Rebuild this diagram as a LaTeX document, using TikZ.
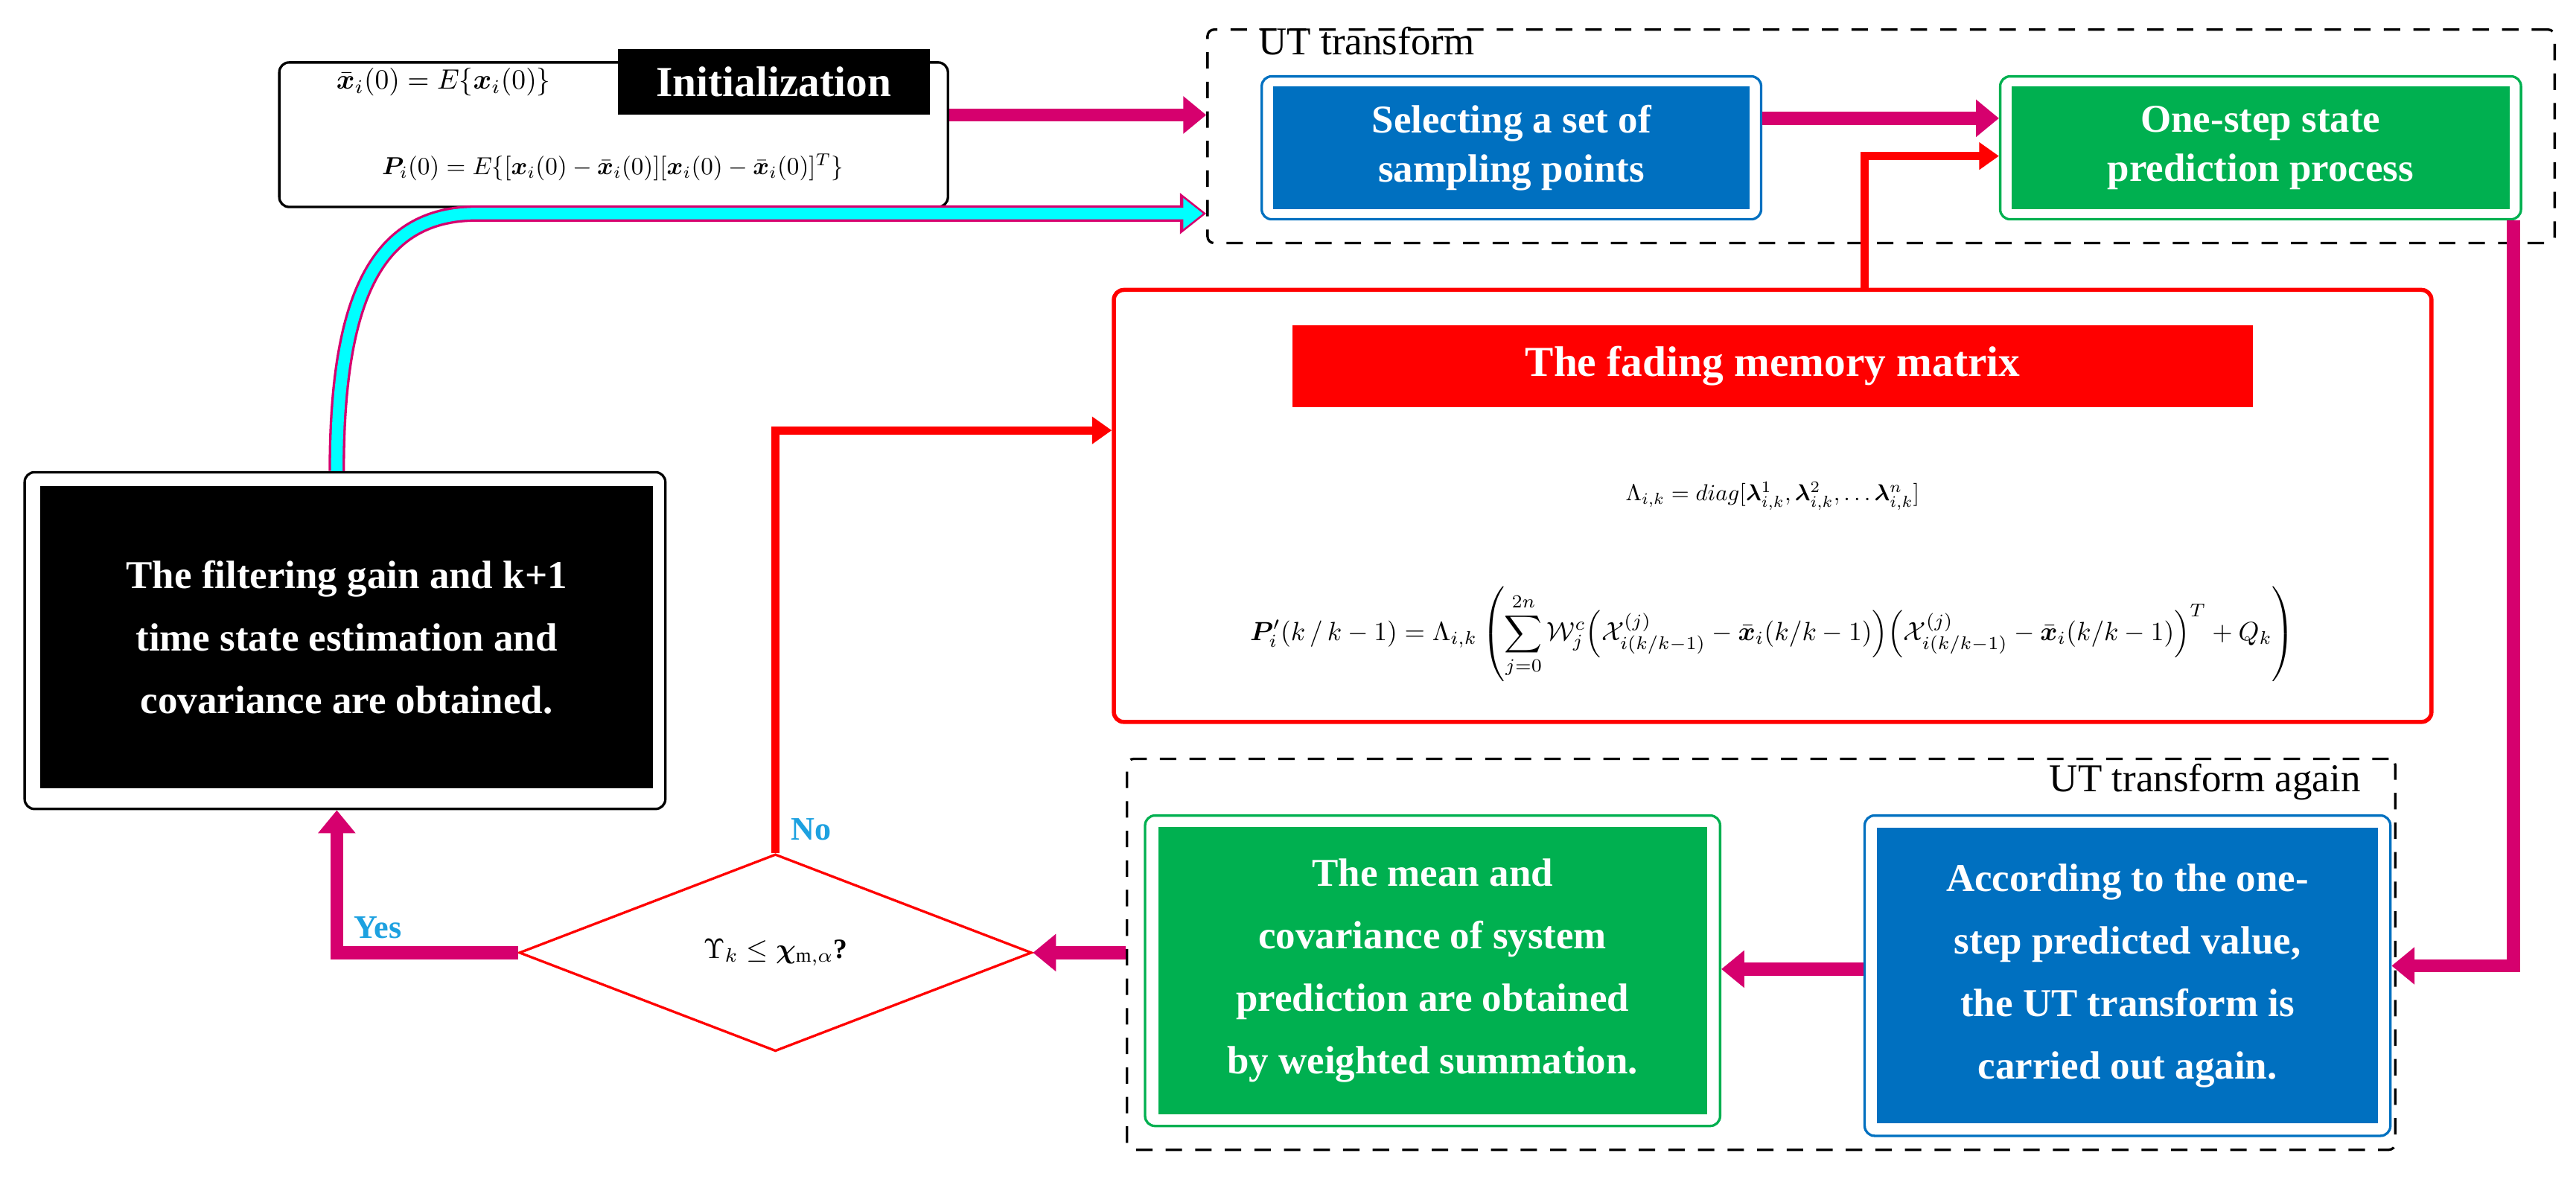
\documentclass[tikz,border=0pt]{standalone}
\usepackage{amsmath,amssymb,bm}
\usepackage{fontspec}
\setmainfont{Liberation Serif}
\usetikzlibrary{arrows.meta,shapes.geometric}
\definecolor{mag}{RGB}{214,0,110}
\definecolor{bblue}{RGB}{0,112,192}
\definecolor{ggreen}{RGB}{0,176,80}
\definecolor{lbl}{RGB}{29,161,224}
\definecolor{cyn}{RGB}{0,255,255}
\begin{document}
\begin{tikzpicture}[x=1pt,y=-1pt,
  outer/.style={draw,rounded corners=6pt,line width=1.5pt,inner sep=0pt},
  inner/.style={fill,inner sep=0pt,text=white,font=\fontsize{24}{30}\selectfont\bfseries,align=center},
  dashbox/.style={draw=black,dashed,dash pattern=on 10pt off 8pt,line width=1.5pt,rounded corners=4pt,inner sep=0pt},
  big/.style={-{Triangle[length=14pt,width=22pt]},line width=8pt,draw=mag},
  redar/.style={-{Triangle[length=12pt,width=16pt]},line width=5pt,draw=red},
  lab/.style={font=\fontsize{20}{24}\selectfont\bfseries,text=lbl}]
\useasboundingbox (0,0) rectangle (1568,723);
% init
\node[outer,minimum width=407pt,minimum height=88pt] (init) at (373.5,82) {};
\node[inner,fill=black,minimum width=190pt,minimum height=40pt,font=\fontsize{26}{30}\selectfont\bfseries] (initl) at (471,50) {Initialization};
\node (f1) at (270,50) {\scalebox{1.7}{$\bar{\bm{x}}_i(0)=E\{\bm{x}_i(0)\}$}};
\node (f2) at (373,102) {\scalebox{1.5}{$\bm{P}_i(0)=E\{[\bm{x}_i(0)-\bar{\bm{x}}_i(0)][\bm{x}_i(0)-\bar{\bm{x}}_i(0)]^T\}$}};
% UT
\node[dashbox,minimum width=820pt,minimum height=130pt] (ut) at (1145,83) {};
\node[font=\fontsize{24}{28}\selectfont,anchor=north west,inner sep=0pt] (utl) at (766,16) {UT transform};
\node[outer,draw=bblue,minimum width=304pt,minimum height=87pt] (sel) at (920,90) {};
\node[inner,fill=bblue,minimum width=290pt,minimum height=75pt] (selt) at (920,90) {Selecting a set of\\sampling points};
\node[outer,draw=ggreen,minimum width=317pt,minimum height=87pt] (one) at (1376,90) {};
\node[inner,fill=ggreen,minimum width=303pt,minimum height=75pt] (onet) at (1376,90) {One-step state\\prediction process};
% fading
\node[outer,draw=red,line width=2.5pt,minimum width=802pt,minimum height=263pt] (fad) at (1079,308) {};
\node[inner,fill=red,minimum width=585pt,minimum height=50pt,font=\fontsize{26}{30}\selectfont\bfseries] (fadt) at (1079,223) {The fading memory matrix};
\node (lam) at (1079,302) {\scalebox{1.4}{$\Lambda_{i,k}=diag[\bm{\lambda}^1_{i,k},\bm{\lambda}^2_{i,k},\ldots\bm{\lambda}^n_{i,k}]$}};
\node (pp) at (1079,386) {\scalebox{1.6}{$\displaystyle \bm{P}_i'(k\,/\,k-1)=\Lambda_{i,k}\left(\sum_{j=0}^{2n}\mathcal{W}_j^c\Big(\mathcal{X}_{i(k/k-1)}^{(j)}-\bar{\bm{x}}_i(k/k-1)\Big)\Big(\mathcal{X}_{i(k/k-1)}^{(j)}-\bar{\bm{x}}_i(k/k-1)\Big)^T+Q_k\right)$}};
% filter
\node[outer,minimum width=390pt,minimum height=205pt] (fil) at (210,390) {};
\node[inner,fill=black,minimum width=373pt,minimum height=184pt,font=\fontsize{24}{38}\selectfont\bfseries] (filt) at (211,388) {The filtering gain and k+1\\time state estimation and\\covariance are obtained.};
% diamond
\node[draw=red,line width=1.5pt,shape=diamond,aspect=2.6,minimum width=312pt,minimum height=120pt,inner sep=0pt] (dia) at (472,580) {\scalebox{1.7}{$\Upsilon_k\le\bm{\chi}_{\mathrm{m},\alpha}$\textbf{?}}};
% UT again
\node[dashbox,minimum width=772pt,minimum height=238pt] (uta) at (1072,581) {};
\node[font=\fontsize{24}{28}\selectfont,anchor=north east,inner sep=0pt] (utal) at (1437,465) {UT transform again};
\node[outer,draw=ggreen,minimum width=350pt,minimum height=189pt] (mean) at (872,591) {};
\node[inner,fill=ggreen,minimum width=334pt,minimum height=175pt,font=\fontsize{24}{38}\selectfont\bfseries] (meant) at (872,591) {The mean and\\covariance of system\\prediction are obtained\\by weighted summation.};
\node[outer,draw=bblue,minimum width=320pt,minimum height=195pt] (acc) at (1295,594) {};
\node[inner,fill=bblue,minimum width=305pt,minimum height=180pt,font=\fontsize{24}{38}\selectfont\bfseries] (acct) at (1295,594) {According to the one-\\step predicted value,\\the UT transform is\\carried out again.};
% connectors
\draw[big] (init.east|-0,70) -- (ut.west|-0,70);
\draw[big] (sel.east|-0,72) -- (one.west|-0,72);
\draw[redar] (fad.north-|1135,0) -- (1135,95) -- (one.west|-0,95);
\draw[big] (one.south-|1530,0) -- (1530,588) -- (acc.east|-0,588);
\draw[big] (acc.west|-0,590) -- (mean.east|-0,590);
\draw[big] (uta.west|-0,580) -- (dia.east);
\draw[big] (dia.west) -- (205,580) -- (fil.south-|205,0);
\draw[redar] (dia.north) -- (472,262) -- (fad.west|-0,262);
\draw[-{Triangle[length=16pt,width=24pt]},line width=10pt,draw=mag] (fil.north-|205,0) .. controls (205,180) and (230,130) .. (290,130) -- (ut.west|-0,130);
\draw[-{Triangle[length=12pt,width=18pt]},line width=7pt,draw=cyn,shorten >=2pt] (fil.north-|205,0) .. controls (205,180) and (230,130) .. (290,130) -- (ut.west|-0,130);
\node[lab,anchor=south west] (yes) at (212,575) {Yes};
\node[lab,anchor=south west] (no) at (478,515) {No};
\end{tikzpicture}
\end{document}
